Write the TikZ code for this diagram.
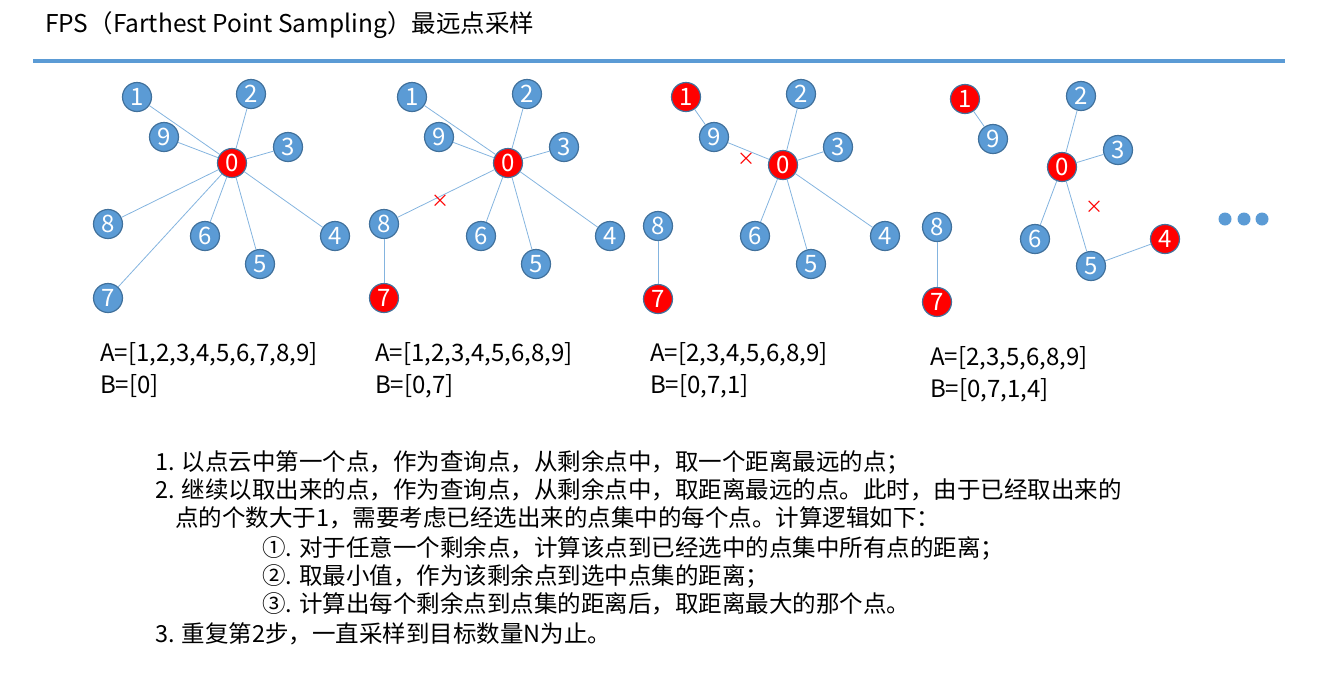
\documentclass[tikz,border=0pt]{standalone}
\usepackage{fontspec}
\setmainfont{Noto Sans CJK SC}
\begin{document}
\begin{tikzpicture}[x=1pt,y=-1pt,
  pt/.style={circle,fill=bluefill,draw=blueedge,line width=1.2pt,minimum size=29pt,inner sep=0pt,text=white,font=\fontsize{24}{24}\selectfont},
  rpt/.style={pt,fill=red},
  ln/.style={draw=bluefill!75,line width=0.8pt},
  crs/.style={text=red,font=\fontsize{18}{18}\selectfont},
  lab/.style={anchor=west,font=\fontsize{24}{24}\selectfont,inner sep=0pt},
  txt/.style={anchor=west,font=\fontsize{23.5}{24}\selectfont,inner sep=0pt}]
\definecolor{bluefill}{HTML}{5B9BD5}
\definecolor{blueedge}{HTML}{41719C}
\useasboundingbox (0,0) rectangle (1330,697);
\node[anchor=west,inner sep=0pt,font=\fontsize{24.5}{24}\selectfont] (title) at (45,25) {FPS（Farthest Point Sampling）最远点采样};
\coordinate (rl) at (33,61); \coordinate (rr) at (1285,61);
\draw[bluefill,line width=4pt] (rl) -- (rr);
% panel 1
\node[pt] (a1) at (137,97) {1}; \node[pt] (a2) at (251,94) {2}; \node[pt] (a9) at (164,137) {9};
\node[rpt] (a0) at (232,163) {0}; \node[pt] (a3) at (288,147) {3}; \node[pt] (a8) at (108,224) {8};
\node[pt] (a6) at (205,236) {6}; \node[pt] (a5) at (260,264) {5}; \node[pt] (a4) at (335,236) {4};
\node[pt] (a7) at (108,298) {7};
\foreach \n in {1,2,3,4,5,6,7,8,9} \draw[ln] (a0) -- (a\n);
% panel 2
\node[pt] (b1) at (412,97) {1}; \node[pt] (b2) at (527,94) {2}; \node[pt] (b9) at (439,137) {9};
\node[rpt] (b0) at (508,163) {0}; \node[pt] (b3) at (564,147) {3}; \node[pt] (b8) at (384,224) {8};
\node[pt] (b6) at (481,236) {6}; \node[pt] (b5) at (536,264) {5}; \node[pt] (b4) at (610,236) {4};
\node[rpt] (b7) at (384,298) {7};
\foreach \n in {1,2,3,4,5,6,8,9} \draw[ln] (b0) -- (b\n);
\draw[ln] (b8) -- (b7);
\node[crs] (bx) at (440,201) {×};
% panel 3
\node[rpt] (c1) at (686,97) {1}; \node[pt] (c2) at (801,94) {2}; \node[pt] (c9) at (714,137) {9};
\node[rpt] (c0) at (783,165) {0}; \node[pt] (c3) at (838,147) {3}; \node[pt] (c8) at (658,226) {8};
\node[pt] (c6) at (755,236) {6}; \node[pt] (c5) at (811,264) {5}; \node[pt] (c4) at (885,236) {4};
\node[rpt] (c7) at (658,299) {7};
\foreach \n in {2,3,4,5,6,9} \draw[ln] (c0) -- (c\n);
\draw[ln] (c1) -- (c9); \draw[ln] (c8) -- (c7);
\node[crs] (cx) at (746,159) {×};
% panel 4
\node[rpt] (d1) at (965,99) {1}; \node[pt] (d2) at (1081,96) {2}; \node[pt] (d9) at (993,139) {9};
\node[rpt] (d0) at (1062,167) {0}; \node[pt] (d3) at (1118,150) {3}; \node[pt] (d8) at (937,227) {8};
\node[pt] (d6) at (1035,239) {6}; \node[pt] (d5) at (1091,266) {5}; \node[rpt] (d4) at (1165,239) {4};
\node[rpt] (d7) at (937,302) {7};
\foreach \n in {2,3,5,6} \draw[ln] (d0) -- (d\n);
\draw[ln] (d1) -- (d9); \draw[ln] (d8) -- (d7); \draw[ln] (d5) -- (d4);
\node[crs] (dx) at (1094,207) {×};
\foreach \i/\x in {1/1225,2/1244,3/1262} \node[circle,fill=bluefill,minimum size=13pt,inner sep=0pt] (dot\i) at (\x,219) {};
% labels
\node[lab] (la1) at (100,354) {A=[1,2,3,4,5,6,7,8,9]}; \node[lab] (lb1) at (100,386) {B=[0]};
\node[lab] (la2) at (375,354) {A=[1,2,3,4,5,6,8,9]}; \node[lab] (lb2) at (375,386) {B=[0,7]};
\node[lab] (la3) at (650,354) {A=[2,3,4,5,6,8,9]}; \node[lab] (lb3) at (650,386) {B=[0,7,1]};
\node[lab] (la4) at (930,358) {A=[2,3,5,6,8,9]}; \node[lab] (lb4) at (930,390) {B=[0,7,1,4]};
% text
\node[txt] (t1) at (155,462) {1. 以点云中第一个点，作为查询点，从剩余点中，取一个距离最远的点；};
\node[txt] (t2) at (155,490) {2. 继续以取出来的点，作为查询点，从剩余点中，取距离最远的点。此时，由于已经取出来的};
\node[txt] (t3) at (175,518) {点的个数大于1，需要考虑已经选出来的点集中的每个点。计算逻辑如下：};
\node[txt] (t4) at (262,548) {①. 对于任意一个剩余点，计算该点到已经选中的点集中所有点的距离；};
\node[txt] (t5) at (262,576) {②. 取最小值，作为该剩余点到选中点集的距离；};
\node[txt] (t6) at (262,604) {③. 计算出每个剩余点到点集的距离后，取距离最大的那个点。};
\node[txt] (t7) at (155,634) {3. 重复第2步，一直采样到目标数量N为止。};
\end{tikzpicture}
\end{document}
